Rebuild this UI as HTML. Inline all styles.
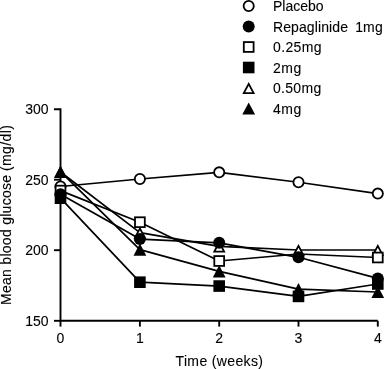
<!DOCTYPE html>
<html><head><meta charset="utf-8"><style>
html,body{margin:0;padding:0;background:#fff;}
body{width:384px;height:369px;position:relative;overflow:hidden;}
#w{position:absolute;left:0;top:0;width:384px;height:369px;background:#fff;}
svg{filter:blur(0.3px);}
svg{position:absolute;left:0;top:0;}
.t{position:absolute;font-family:"Liberation Sans",Arial,sans-serif;font-size:14px;line-height:16px;height:16px;white-space:nowrap;color:#000;-webkit-text-stroke:0.1px #000;}
.r{text-align:right;}
.c{width:40px;text-align:center;}
.ytitle{position:absolute;font-family:"Liberation Sans",Arial,sans-serif;font-size:14px;line-height:16px;white-space:nowrap;transform-origin:0 0;transform:rotate(-90deg);-webkit-text-stroke:0.1px #000;}
</style></head><body><div id="w">
<svg width="384" height="369" viewBox="0 0 384 369">
<path d="M54 109.2 H60.5 V320.8 H377.8" fill="none" stroke="#000" stroke-width="1.9" stroke-linejoin="miter"/>
<line x1="54" y1="179.7" x2="60.5" y2="179.7" stroke="#000" stroke-width="1.9"/>
<line x1="54" y1="250.2" x2="60.5" y2="250.2" stroke="#000" stroke-width="1.9"/>
<line x1="54" y1="320.8" x2="60.5" y2="320.8" stroke="#000" stroke-width="1.9"/>
<line x1="60.5" y1="320.8" x2="60.5" y2="326.6" stroke="#000" stroke-width="1.9"/>
<line x1="139.9" y1="320.8" x2="139.9" y2="326.6" stroke="#000" stroke-width="1.9"/>
<line x1="219.2" y1="320.8" x2="219.2" y2="326.6" stroke="#000" stroke-width="1.9"/>
<line x1="298.5" y1="320.8" x2="298.5" y2="326.6" stroke="#000" stroke-width="1.9"/>
<line x1="377.8" y1="320.8" x2="377.8" y2="326.6" stroke="#000" stroke-width="1.9"/>
<polyline points="60.50,186.50 139.90,179.00 219.20,172.35 298.50,182.25 377.80,193.60" fill="none" stroke="#000" stroke-width="1.7" stroke-linejoin="round"/>
<circle cx="60.50" cy="186.50" r="5.10" fill="#fff" stroke="#000" stroke-width="1.8"/>
<circle cx="139.90" cy="179.00" r="5.10" fill="#fff" stroke="#000" stroke-width="1.8"/>
<circle cx="219.20" cy="172.35" r="5.10" fill="#fff" stroke="#000" stroke-width="1.8"/>
<circle cx="298.50" cy="182.25" r="5.10" fill="#fff" stroke="#000" stroke-width="1.8"/>
<circle cx="377.80" cy="193.60" r="5.10" fill="#fff" stroke="#000" stroke-width="1.8"/>
<polyline points="60.50,172.00 139.90,232.60 219.20,246.45 298.50,250.00 377.80,250.00" fill="none" stroke="#000" stroke-width="1.7" stroke-linejoin="round"/>
<polygon points="60.50,167.84 65.41,177.20 55.59,177.20" fill="#fff" stroke="#000" stroke-width="1.8" stroke-linejoin="miter" stroke-miterlimit="10"/>
<polygon points="139.90,228.44 144.81,237.80 134.99,237.80" fill="#fff" stroke="#000" stroke-width="1.8" stroke-linejoin="miter" stroke-miterlimit="10"/>
<polygon points="219.20,242.29 224.11,251.65 214.29,251.65" fill="#fff" stroke="#000" stroke-width="1.8" stroke-linejoin="miter" stroke-miterlimit="10"/>
<polygon points="298.50,245.84 303.41,255.20 293.59,255.20" fill="#fff" stroke="#000" stroke-width="1.8" stroke-linejoin="miter" stroke-miterlimit="10"/>
<polygon points="377.80,245.84 382.71,255.20 372.89,255.20" fill="#fff" stroke="#000" stroke-width="1.8" stroke-linejoin="miter" stroke-miterlimit="10"/>
<polyline points="60.50,190.60 139.90,222.20 219.20,261.00 298.50,254.00 377.80,257.50" fill="none" stroke="#000" stroke-width="1.7" stroke-linejoin="round"/>
<rect x="55.60" y="185.70" width="9.80" height="9.80" fill="#fff" stroke="#000" stroke-width="1.8"/>
<rect x="135.00" y="217.30" width="9.80" height="9.80" fill="#fff" stroke="#000" stroke-width="1.8"/>
<rect x="214.30" y="256.10" width="9.80" height="9.80" fill="#fff" stroke="#000" stroke-width="1.8"/>
<rect x="372.90" y="252.60" width="9.80" height="9.80" fill="#fff" stroke="#000" stroke-width="1.8"/>
<polyline points="60.50,194.30 139.90,239.10 219.20,242.80 298.50,257.30 377.80,278.40" fill="none" stroke="#000" stroke-width="1.7" stroke-linejoin="round"/>
<circle cx="60.50" cy="194.30" r="6.00" fill="#000"/>
<circle cx="139.90" cy="239.10" r="6.00" fill="#000"/>
<circle cx="219.20" cy="242.80" r="6.00" fill="#000"/>
<circle cx="298.50" cy="257.30" r="6.00" fill="#000"/>
<circle cx="377.80" cy="278.40" r="6.00" fill="#000"/>
<polyline points="60.50,198.20 139.90,282.20 219.20,286.05 298.50,296.40 377.80,284.00" fill="none" stroke="#000" stroke-width="1.7" stroke-linejoin="round"/>
<rect x="54.70" y="192.40" width="11.60" height="11.60" fill="#000"/>
<rect x="134.10" y="276.40" width="11.60" height="11.60" fill="#000"/>
<rect x="213.40" y="280.25" width="11.60" height="11.60" fill="#000"/>
<rect x="292.70" y="290.60" width="11.60" height="11.60" fill="#000"/>
<rect x="372.00" y="278.20" width="11.60" height="11.60" fill="#000"/>
<polyline points="60.50,171.60 139.90,249.60 219.20,271.40 298.50,289.20 377.80,292.00" fill="none" stroke="#000" stroke-width="1.7" stroke-linejoin="round"/>
<polygon points="60.50,165.50 66.90,177.70 54.10,177.70" fill="#000"/>
<polygon points="139.90,243.50 146.30,255.70 133.50,255.70" fill="#000"/>
<polygon points="219.20,265.30 225.60,277.50 212.80,277.50" fill="#000"/>
<polygon points="298.50,283.10 304.90,295.30 292.10,295.30" fill="#000"/>
<polygon points="377.80,285.90 384.20,298.10 371.40,298.10" fill="#000"/>
<circle cx="248.70" cy="6.00" r="5.10" fill="#fff" stroke="#000" stroke-width="1.8"/>
<circle cx="248.70" cy="26.50" r="6.00" fill="#000"/>
<rect x="243.80" y="42.10" width="9.80" height="9.80" fill="#fff" stroke="#000" stroke-width="1.8"/>
<rect x="242.90" y="61.70" width="11.60" height="11.60" fill="#000"/>
<polygon points="248.70,83.84 253.61,93.20 243.79,93.20" fill="#fff" stroke="#000" stroke-width="1.8" stroke-linejoin="miter" stroke-miterlimit="10"/>
<polygon points="248.70,102.40 255.10,114.60 242.30,114.60" fill="#000"/>
</svg>
<div class="t" style="left:273px;top:-1.9px;letter-spacing:0px">Placebo</div>
<div class="t" style="left:273px;top:18.6px;letter-spacing:0.1px">Repaglinide <span style="margin-left:3.2px">1mg</span></div>
<div class="t" style="left:273px;top:39.1px;letter-spacing:0.35px">0.25mg</div>
<div class="t" style="left:273px;top:59.6px;letter-spacing:0.5px">2mg</div>
<div class="t" style="left:273px;top:80.1px;letter-spacing:0.3px">0.50mg</div>
<div class="t" style="left:273px;top:100.6px;letter-spacing:0.5px">4mg</div>
<div class="t r" style="right:335.4px;top:101.2px">300</div>
<div class="t r" style="right:335.4px;top:171.7px">250</div>
<div class="t r" style="right:335.4px;top:242.2px">200</div>
<div class="t r" style="right:335.4px;top:312.8px">150</div>
<div class="t c" style="left:40.50px;top:329.6px">0</div>
<div class="t c" style="left:119.90px;top:329.6px">1</div>
<div class="t c" style="left:199.20px;top:329.6px">2</div>
<div class="t c" style="left:278.50px;top:329.6px">3</div>
<div class="t c" style="left:357.80px;top:329.6px">4</div>
<div class="t" style="left:175.5px;top:353.2px;letter-spacing:0.36px">Time (weeks)</div>
<div class="ytitle" style="left:-2.4000000000000004px;top:304.6px;letter-spacing:0.28px">Mean blood glucose <span style="letter-spacing:0.4px;margin-left:-0.57px">(mg/dl)</span></div>
</div></body></html>
